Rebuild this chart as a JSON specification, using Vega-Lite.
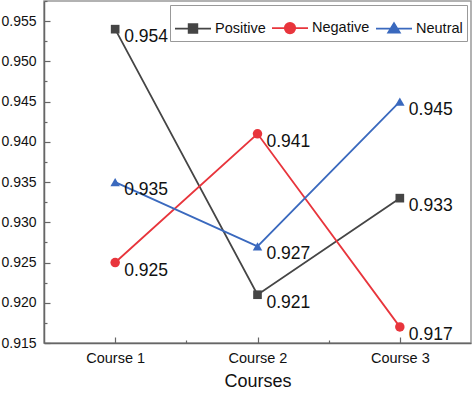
{
  "$schema": "https://vega.github.io/schema/vega-lite/v6.json",
  "autosize": "none",
  "width": 427,
  "height": 342,
  "padding": {"left": 44, "top": 1, "right": 3, "bottom": 52},
  "background": "white",
  "data": {
    "values": [
      {"course": 1, "sentiment": "Positive", "value": 0.954},
      {"course": 2, "sentiment": "Positive", "value": 0.921},
      {"course": 3, "sentiment": "Positive", "value": 0.933},
      {"course": 1, "sentiment": "Negative", "value": 0.925},
      {"course": 2, "sentiment": "Negative", "value": 0.941},
      {"course": 3, "sentiment": "Negative", "value": 0.917},
      {"course": 1, "sentiment": "Neutral", "value": 0.935},
      {"course": 2, "sentiment": "Neutral", "value": 0.927},
      {"course": 3, "sentiment": "Neutral", "value": 0.945}
    ]
  },
  "layer": [
    {
      "mark": {"type": "line", "strokeWidth": 1.8},
      "encoding": {
        "x": {
          "field": "course", "type": "quantitative",
          "scale": {"domain": [0.5, 3.5], "nice": false, "zero": false},
          "axis": {"orient": "bottom", "values": [1, 2, 3], "labelExpr": "'Course ' + datum.value", "tickSize": -6, "labelPadding": 14, "labelFontSize": 14.5, "title": "Courses", "titleFontSize": 18, "titleFontWeight": "normal", "titleColor": "#111", "titlePadding": 8}
        },
        "y": {
          "field": "value", "type": "quantitative",
          "scale": {"domain": [0.915, 0.9575], "nice": false, "zero": false},
          "axis": {"orient": "left", "values": [0.915, 0.92, 0.925, 0.93, 0.935, 0.94, 0.945, 0.95, 0.955], "format": ".3f", "tickSize": -6, "labelPadding": 14, "title": null}
        },
        "color": {
          "field": "sentiment", "type": "nominal",
          "scale": {"domain": ["Positive", "Negative", "Neutral"], "range": ["#454545", "#e8353c", "#3a69be"]},
          "legend": {
            "title": null,
            "orient": "top-right",
            "direction": "horizontal",
            "offset": 4,
            "strokeColor": "#999",
            "padding": 4,
            "fillColor": "white",
            "labelFontSize": 14.5,
            "labelColor": "#111",
            "labelOffset": 3,
            "columnPadding": 2,
            "symbolSize": 1296,
            "symbolStrokeWidth": 1.8,
            "encode": {
              "symbols": {
                "update": {
                  "shape": {"signal": "datum.value === 'Positive' ? 'M-1,0H1M-0.24,-0.24H0.24V0.24H-0.24Z' : datum.value === 'Negative' ? 'M-1,0H1M-0.29,0A0.29,0.29,0,1,0,0.29,0A0.29,0.29,0,1,0,-0.29,0Z' : 'M-1,0H1M0,-0.3L0.32,0.22H-0.32Z'"},
                  "stroke": {"scale": "color", "field": "value"},
                  "fill": {"scale": "color", "field": "value"},
                  "strokeWidth": {"value": 1.8},
                  "opacity": {"value": 1}
                }
              }
            }
          }
        }
      }
    },
    {
      "transform": [{"filter": "datum.sentiment === 'Positive'"}],
      "mark": {"type": "point", "filled": true, "size": 75, "opacity": 1, "shape": "square"},
      "encoding": {
        "x": {"field": "course", "type": "quantitative", "axis": null},
        "y": {"field": "value", "type": "quantitative", "axis": null},
        "color": {"field": "sentiment", "type": "nominal"}
      }
    },
    {
      "transform": [{"filter": "datum.sentiment === 'Negative'"}],
      "mark": {"type": "point", "filled": true, "size": 90, "opacity": 1, "shape": "circle"},
      "encoding": {
        "x": {"field": "course", "type": "quantitative", "axis": null},
        "y": {"field": "value", "type": "quantitative", "axis": null},
        "color": {"field": "sentiment", "type": "nominal"}
      }
    },
    {
      "transform": [{"filter": "datum.sentiment === 'Neutral'"}],
      "mark": {"type": "point", "filled": true, "size": 90, "opacity": 1, "shape": "triangle-up"},
      "encoding": {
        "x": {"field": "course", "type": "quantitative", "axis": null},
        "y": {"field": "value", "type": "quantitative", "axis": null},
        "color": {"field": "sentiment", "type": "nominal"}
      }
    },
    {
      "mark": {"type": "text", "align": "left", "baseline": "middle", "dx": 9, "dy": 8, "fontSize": 17.5, "color": "#111"},
      "encoding": {
        "x": {"field": "course", "type": "quantitative", "axis": null},
        "y": {"field": "value", "type": "quantitative", "axis": null},
        "text": {"field": "value", "type": "quantitative", "format": ".3f"}
      }
    },
    {
      "mark": {"type": "point", "opacity": 0},
      "encoding": {
        "x": {
          "field": "course", "type": "quantitative",
          "axis": {"orient": "bottom", "values": [1.5, 2.5], "labels": false, "domain": false, "tickSize": -3, "title": null}
        },
        "y": {
          "field": "value", "type": "quantitative",
          "axis": {"orient": "left", "values": [0.9175, 0.9225, 0.9275, 0.9325, 0.9375, 0.9425, 0.9475, 0.9525, 0.9575], "labels": false, "domain": false, "tickSize": -3, "title": null}
        }
      }
    }
  ],
  "resolve": {"axis": {"x": "independent", "y": "independent"}},
  "config": {
    "font": "Liberation Sans",
    "view": {"stroke": "#999", "strokeWidth": 1.5},
    "axis": {"domainColor": "#666", "domainWidth": 1.5, "tickColor": "#666", "tickWidth": 1.2, "labelColor": "#111", "labelFontSize": 14, "grid": false}
  }
}
